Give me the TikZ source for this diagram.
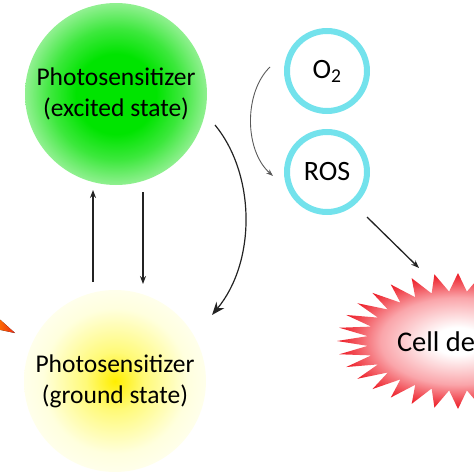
\documentclass[tikz,border=0pt]{standalone}
\usepackage{fontspec}
\setmainfont{Carlito}
\usetikzlibrary{arrows.meta,calc}
\definecolor{gA}{RGB}{0,228,0}
\definecolor{gB}{RGB}{60,232,60}
\definecolor{gC}{RGB}{145,240,145}
\definecolor{yA}{RGB}{255,238,0}
\definecolor{yB}{RGB}{255,250,120}
\definecolor{yC}{RGB}{255,255,222}
\definecolor{rA}{RGB}{255,255,255}
\definecolor{rB}{RGB}{250,165,170}
\definecolor{rC}{RGB}{236,24,34}
\definecolor{ringc}{RGB}{115,226,236}
\definecolor{arrc}{RGB}{35,35,35}
\definecolor{orA}{RGB}{255,120,0}
\definecolor{orB}{RGB}{235,40,20}
\pgfdeclareradialshading{greenball}{\pgfpoint{0bp}{0bp}}{color(0bp)=(gA); color(11bp)=(gA); color(18bp)=(gB); color(25bp)=(gC); color(50bp)=(gC)}
\pgfdeclareradialshading{yellowball}{\pgfpoint{0bp}{0bp}}{color(0bp)=(yA); color(8bp)=(yB); color(20bp)=(yC); color(25bp)=(yC!60!white); color(50bp)=(white)}
\pgfdeclareradialshading{burstshade}{\pgfpoint{0bp}{0bp}}{color(0bp)=(rA); color(5bp)=(rA); color(16bp)=(rB); color(25bp)=(rC); color(50bp)=(rC)}
\tikzset{
  ball/.style={circle, inner sep=0pt, align=center, font=\fontsize{25.5}{31}\selectfont},
  ring/.style={circle, draw=ringc, line width=6pt, minimum size=80pt, inner sep=0pt, font=\fontsize{28}{30}\selectfont},
  conn/.style={draw=arrc, line width=1.4pt, -{Stealth[length=8pt,width=6pt]}},
  thinconn/.style={draw=black!65, line width=0.9pt, -{Stealth[length=7pt,width=5pt]}},
  bigconn/.style={draw=arrc, line width=1.2pt, -{Stealth[length=13pt,width=10pt]}},
}
\begin{document}
\begin{tikzpicture}[x=1pt,y=-1pt]
\useasboundingbox (0,0) rectangle (474,474);
% starburst
\shade[shading=burstshade] (579,341)
  \foreach \k in {0,...,31}{
    -- ({458+0.75*121*cos(\k*11.25+5.625)},{341+0.73*68*sin(\k*11.25+5.625)})
    -- ({458+121*cos((\k+1)*11.25)},{341+68*sin((\k+1)*11.25)})
  } -- cycle;
\node[font=\fontsize{28.5}{30}\selectfont] (death) at (455,342) {Cell death};
% balls
\node[ball, minimum size=182pt, shading=greenball] (exc) at (116,94) {Photosensitizer\\(excited state)};
\node[ball, minimum size=182pt, shading=yellowball] (gnd) at (115,381) {Photosensitizer\\(ground state)};
% rings
\node[ring] (o2) at (327,71) {O\textsubscript{2}};
\node[ring] (ros) at (327,172) {ROS};
% orange light arrow tip
\fill[left color=orA, right color=orB] (-4,316) -- (15,333) -- (-4,329) -- cycle;
% coordinates
\coordinate (up0) at (93,282);
\coordinate (up1) at (93,190);
\coordinate (dn0) at (143,192);
\coordinate (dn1) at (143,284);
\coordinate (c0) at (215,125);
\coordinate (c1) at (212,315);
\coordinate (o0) at (270,67);
\coordinate (o1) at (273,176);
\coordinate (r0) at (367,217);
\coordinate (r1) at (419,268);
% connectors
\draw[conn] (up0) -- (up1);
\draw[conn] (dn0) -- (dn1);
\draw[bigconn] (c0) .. controls (256,175) and (256,262) .. (c1);
\draw[thinconn] (o0) .. controls (244,92) and (244,150) .. (o1);
\draw[conn, line width=1.3pt] (r0) -- (r1);
\end{tikzpicture}
\end{document}
